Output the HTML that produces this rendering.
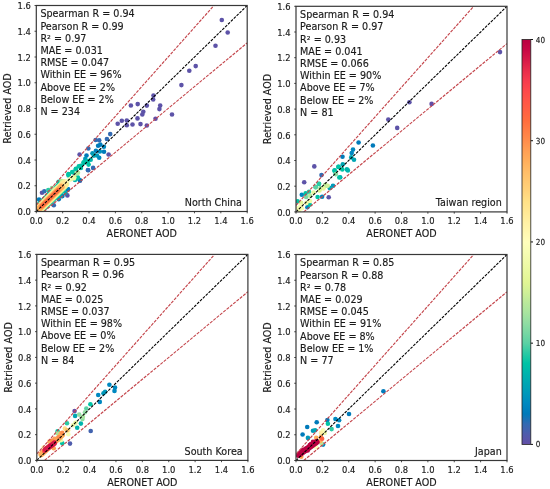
<!DOCTYPE html><html><head><meta charset="utf-8"><title>AOD validation</title><style>html,body{margin:0;padding:0;background:#fff}svg{display:block}text{font-family:'DejaVu Sans','Liberation Sans',sans-serif;fill:#1a1a1a;stroke:#1a1a1a;stroke-width:0.15px}svg{filter:blur(0.3px)}</style></head><body>
<svg width="550" height="489" viewBox="0 0 550 489">
<defs>
<clipPath id="cTL"><rect x="36.30" y="5.50" width="210.90" height="206.00"/></clipPath>
<clipPath id="cTR"><rect x="296.00" y="6.30" width="211.00" height="205.60"/></clipPath>
<clipPath id="cBL"><rect x="36.80" y="254.40" width="211.10" height="206.00"/></clipPath>
<clipPath id="cBR"><rect x="296.00" y="254.50" width="211.00" height="206.00"/></clipPath>
<linearGradient id="cb" x1="0" y1="0" x2="0" y2="1"><stop offset="0.000" stop-color="#b90041"/><stop offset="0.025" stop-color="#c80745"/><stop offset="0.050" stop-color="#d71848"/><stop offset="0.075" stop-color="#e72b4b"/><stop offset="0.100" stop-color="#f53a4e"/><stop offset="0.125" stop-color="#fd474b"/><stop offset="0.150" stop-color="#ff5447"/><stop offset="0.175" stop-color="#ff6043"/><stop offset="0.200" stop-color="#ff6d3e"/><stop offset="0.225" stop-color="#ff7d45"/><stop offset="0.250" stop-color="#ff8d4c"/><stop offset="0.275" stop-color="#ff9f54"/><stop offset="0.300" stop-color="#ffae5b"/><stop offset="0.325" stop-color="#ffbc67"/><stop offset="0.350" stop-color="#ffc871"/><stop offset="0.375" stop-color="#ffd37b"/><stop offset="0.400" stop-color="#ffe187"/><stop offset="0.425" stop-color="#ffe894"/><stop offset="0.450" stop-color="#fff0a3"/><stop offset="0.475" stop-color="#fff7af"/><stop offset="0.500" stop-color="#fffebc"/><stop offset="0.525" stop-color="#f7fdb3"/><stop offset="0.550" stop-color="#f0faa9"/><stop offset="0.575" stop-color="#e8f89e"/><stop offset="0.600" stop-color="#e1f594"/><stop offset="0.625" stop-color="#cff097"/><stop offset="0.650" stop-color="#bae99b"/><stop offset="0.675" stop-color="#a8e49f"/><stop offset="0.700" stop-color="#91dda3"/><stop offset="0.725" stop-color="#77d7a3"/><stop offset="0.750" stop-color="#5bd1a4"/><stop offset="0.775" stop-color="#2acaa4"/><stop offset="0.800" stop-color="#00c3a5"/><stop offset="0.825" stop-color="#00b4ad"/><stop offset="0.850" stop-color="#00a6b3"/><stop offset="0.875" stop-color="#0098ba"/><stop offset="0.900" stop-color="#0088c0"/><stop offset="0.925" stop-color="#007aba"/><stop offset="0.950" stop-color="#336ab2"/><stop offset="0.975" stop-color="#4f5cac"/><stop offset="1.000" stop-color="#634ea6"/></linearGradient>
</defs>
<rect width="550" height="489" fill="#fff"/>
<g clip-path="url(#cTL)">
<circle cx="155.5" cy="118.7" r="2.3" fill="#634ea6"/>
<circle cx="146.8" cy="125.5" r="2.3" fill="#634ea6"/>
<circle cx="221.8" cy="20.0" r="2.3" fill="#5d53a8"/>
<circle cx="227.7" cy="32.5" r="2.3" fill="#5d53a8"/>
<circle cx="215.5" cy="45.8" r="2.3" fill="#5d53a8"/>
<circle cx="195.7" cy="66.1" r="2.3" fill="#5d53a8"/>
<circle cx="189.3" cy="70.7" r="2.3" fill="#5d53a8"/>
<circle cx="181.4" cy="85.1" r="2.3" fill="#5d53a8"/>
<circle cx="153.5" cy="95.6" r="2.3" fill="#5d53a8"/>
<circle cx="153.2" cy="99.5" r="2.3" fill="#5d53a8"/>
<circle cx="130.9" cy="105.5" r="2.3" fill="#5d53a8"/>
<circle cx="137.7" cy="104.1" r="2.3" fill="#5d53a8"/>
<circle cx="146.8" cy="105.6" r="2.3" fill="#5d53a8"/>
<circle cx="160.2" cy="105.6" r="2.3" fill="#5d53a8"/>
<circle cx="159.4" cy="109.1" r="2.3" fill="#5d53a8"/>
<circle cx="143.3" cy="111.8" r="2.3" fill="#5d53a8"/>
<circle cx="142.3" cy="114.5" r="2.3" fill="#5d53a8"/>
<circle cx="137.5" cy="118.4" r="2.3" fill="#5d53a8"/>
<circle cx="121.8" cy="120.7" r="2.3" fill="#5d53a8"/>
<circle cx="126.8" cy="120.5" r="2.3" fill="#5d53a8"/>
<circle cx="117.7" cy="123.8" r="2.3" fill="#5d53a8"/>
<circle cx="126.8" cy="125.3" r="2.3" fill="#5d53a8"/>
<circle cx="132.5" cy="124.5" r="2.3" fill="#5d53a8"/>
<circle cx="140.5" cy="124.1" r="2.3" fill="#5d53a8"/>
<circle cx="172.0" cy="114.5" r="2.3" fill="#5d53a8"/>
<circle cx="108.6" cy="154.5" r="2.3" fill="#5d53a8"/>
<circle cx="79.6" cy="154.5" r="2.3" fill="#5d53a8"/>
<circle cx="42.0" cy="192.8" r="2.3" fill="#5d53a8"/>
<circle cx="67.4" cy="195.4" r="2.3" fill="#5d53a8"/>
<circle cx="80.0" cy="180.8" r="2.3" fill="#5d53a8"/>
<circle cx="110.2" cy="134.1" r="2.3" fill="#336ab2"/>
<circle cx="106.9" cy="139.0" r="2.3" fill="#336ab2"/>
<circle cx="95.6" cy="140.0" r="2.3" fill="#336ab2"/>
<circle cx="99.2" cy="140.2" r="2.3" fill="#336ab2"/>
<circle cx="88.3" cy="148.5" r="2.3" fill="#336ab2"/>
<circle cx="88.2" cy="170.3" r="2.3" fill="#336ab2"/>
<circle cx="93.1" cy="167.9" r="2.3" fill="#336ab2"/>
<circle cx="44.3" cy="191.3" r="2.3" fill="#336ab2"/>
<circle cx="53.8" cy="205.2" r="2.3" fill="#336ab2"/>
<circle cx="87.9" cy="170.0" r="2.3" fill="#336ab2"/>
<circle cx="98.1" cy="145.7" r="2.3" fill="#007aba"/>
<circle cx="100.3" cy="144.6" r="2.3" fill="#007aba"/>
<circle cx="104.0" cy="151.8" r="2.3" fill="#007aba"/>
<circle cx="86.5" cy="155.5" r="2.3" fill="#007aba"/>
<circle cx="80.0" cy="180.2" r="2.3" fill="#007aba"/>
<circle cx="39.0" cy="199.6" r="2.3" fill="#007aba"/>
<circle cx="58.7" cy="199.2" r="2.3" fill="#007aba"/>
<circle cx="68.1" cy="189.4" r="2.3" fill="#007aba"/>
<circle cx="62.4" cy="196.1" r="2.3" fill="#007aba"/>
<circle cx="67.9" cy="189.3" r="2.3" fill="#007aba"/>
<circle cx="95.9" cy="150.8" r="2.3" fill="#0081bd"/>
<circle cx="103.9" cy="146.8" r="2.3" fill="#0088c0"/>
<circle cx="99.2" cy="157.7" r="2.3" fill="#0088c0"/>
<circle cx="99.9" cy="151.5" r="2.3" fill="#008fbe"/>
<circle cx="92.5" cy="153.3" r="2.3" fill="#0098ba"/>
<circle cx="97.0" cy="155.5" r="2.3" fill="#0098ba"/>
<circle cx="85.3" cy="158.9" r="2.3" fill="#0098ba"/>
<circle cx="61.0" cy="196.2" r="2.3" fill="#0098ba"/>
<circle cx="58.6" cy="182.2" r="2.3" fill="#0098ba"/>
<circle cx="93.9" cy="155.6" r="2.3" fill="#00a6b3"/>
<circle cx="65.5" cy="193.1" r="2.3" fill="#00a6b3"/>
<circle cx="90.7" cy="159.7" r="2.3" fill="#00b4ad"/>
<circle cx="83.6" cy="162.9" r="2.3" fill="#00b4ad"/>
<circle cx="86.5" cy="161.4" r="2.3" fill="#00b4ad"/>
<circle cx="75.0" cy="180.0" r="2.3" fill="#00b4ad"/>
<circle cx="83.7" cy="162.2" r="2.3" fill="#00c3a5"/>
<circle cx="87.8" cy="161.4" r="2.3" fill="#00c3a5"/>
<circle cx="88.6" cy="164.6" r="2.3" fill="#00c3a5"/>
<circle cx="78.8" cy="166.3" r="2.3" fill="#00c3a5"/>
<circle cx="75.9" cy="168.7" r="2.3" fill="#00c3a5"/>
<circle cx="80.9" cy="167.9" r="2.3" fill="#00c3a5"/>
<circle cx="72.3" cy="172.0" r="2.3" fill="#00c3a5"/>
<circle cx="68.6" cy="174.0" r="2.3" fill="#00c3a5"/>
<circle cx="77.2" cy="177.7" r="2.3" fill="#00c3a5"/>
<circle cx="58.7" cy="181.8" r="2.3" fill="#00c3a5"/>
<circle cx="68.5" cy="175.4" r="2.3" fill="#00c3a5"/>
<circle cx="76.4" cy="178.6" r="2.3" fill="#00c3a5"/>
<circle cx="48.9" cy="191.2" r="2.3" fill="#00c3a5"/>
<circle cx="68.6" cy="174.3" r="2.3" fill="#00c3a5"/>
<circle cx="72.5" cy="172.2" r="2.3" fill="#00c3a5"/>
<circle cx="75.8" cy="169.3" r="2.3" fill="#00c3a5"/>
<circle cx="80.8" cy="165.7" r="2.3" fill="#00c3a5"/>
<circle cx="77.9" cy="177.5" r="2.3" fill="#00c3a5"/>
<line x1="37.62" y1="210.21" x2="61.34" y2="187.04" stroke="#00c3a5" stroke-width="11.5" stroke-linecap="round"/>
<circle cx="48.3" cy="190.0" r="2.3" fill="#2acaa4"/>
<circle cx="52.6" cy="200.4" r="2.3" fill="#2acaa4"/>
<circle cx="47.0" cy="201.6" r="2.3" fill="#5bd1a4"/>
<circle cx="56.2" cy="187.8" r="2.3" fill="#5bd1a4"/>
<circle cx="52.0" cy="188.1" r="2.3" fill="#91dda3"/>
<circle cx="76.5" cy="173.6" r="2.3" fill="#a8e49f"/>
<circle cx="78.0" cy="172.8" r="2.3" fill="#bae99b"/>
<circle cx="61.6" cy="181.0" r="2.3" fill="#bae99b"/>
<circle cx="62.1" cy="181.0" r="2.3" fill="#bae99b"/>
<circle cx="70.6" cy="179.3" r="2.3" fill="#e1f594"/>
<circle cx="63.0" cy="186.3" r="2.3" fill="#e1f594"/>
<circle cx="74.3" cy="177.2" r="2.3" fill="#e1f594"/>
<line x1="36.30" y1="211.50" x2="64.64" y2="183.82" stroke="#e8f89e" stroke-width="9.5" stroke-linecap="round"/>
<circle cx="73.9" cy="178.5" r="2.3" fill="#f0faa9"/>
<circle cx="63.7" cy="185.5" r="2.3" fill="#f0faa9"/>
<circle cx="71.5" cy="178.0" r="2.3" fill="#f0faa9"/>
<circle cx="69.5" cy="179.5" r="2.3" fill="#f7fdb3"/>
<circle cx="64.9" cy="183.4" r="2.3" fill="#fffebc"/>
<circle cx="66.5" cy="181.5" r="2.3" fill="#fffebc"/>
<line x1="36.30" y1="211.50" x2="63.98" y2="184.46" stroke="#ffe894" stroke-width="8.0" stroke-linecap="round"/>
<line x1="38.94" y1="208.93" x2="61.34" y2="187.04" stroke="#ffae5b" stroke-width="6.5" stroke-linecap="round"/>
<line x1="41.57" y1="206.35" x2="58.05" y2="190.26" stroke="#ff6d3e" stroke-width="4.5" stroke-linecap="round"/>
<line x1="36.30" y1="211.50" x2="247.20" y2="5.50" stroke="#000" stroke-width="1.1" stroke-dasharray="2.8 1.2"/>
<line x1="36.30" y1="205.06" x2="213.96" y2="5.50" stroke="#c4464c" stroke-width="1.15" stroke-dasharray="3.1 1.2"/>
<line x1="44.05" y1="211.50" x2="247.20" y2="42.84" stroke="#c4464c" stroke-width="1.15" stroke-dasharray="3.1 1.2"/>
</g>
<rect x="36.30" y="5.50" width="210.90" height="206.00" fill="none" stroke="#383838" stroke-width="1.2"/>
<line x1="36.30" y1="211.50" x2="36.30" y2="213.30" stroke="#222" stroke-width="0.8"/>
<line x1="34.50" y1="211.50" x2="36.30" y2="211.50" stroke="#222" stroke-width="0.8"/>
<text x="36.30" y="223.80" font-size="8.4" text-anchor="middle">0.0</text>
<text x="30.90" y="215.20" font-size="8.4" text-anchor="end">0.0</text>
<line x1="62.66" y1="211.50" x2="62.66" y2="213.30" stroke="#222" stroke-width="0.8"/>
<line x1="34.50" y1="185.75" x2="36.30" y2="185.75" stroke="#222" stroke-width="0.8"/>
<text x="62.66" y="223.80" font-size="8.4" text-anchor="middle">0.2</text>
<text x="30.90" y="189.45" font-size="8.4" text-anchor="end">0.2</text>
<line x1="89.03" y1="211.50" x2="89.03" y2="213.30" stroke="#222" stroke-width="0.8"/>
<line x1="34.50" y1="160.00" x2="36.30" y2="160.00" stroke="#222" stroke-width="0.8"/>
<text x="89.03" y="223.80" font-size="8.4" text-anchor="middle">0.4</text>
<text x="30.90" y="163.70" font-size="8.4" text-anchor="end">0.4</text>
<line x1="115.39" y1="211.50" x2="115.39" y2="213.30" stroke="#222" stroke-width="0.8"/>
<line x1="34.50" y1="134.25" x2="36.30" y2="134.25" stroke="#222" stroke-width="0.8"/>
<text x="115.39" y="223.80" font-size="8.4" text-anchor="middle">0.6</text>
<text x="30.90" y="137.95" font-size="8.4" text-anchor="end">0.6</text>
<line x1="141.75" y1="211.50" x2="141.75" y2="213.30" stroke="#222" stroke-width="0.8"/>
<line x1="34.50" y1="108.50" x2="36.30" y2="108.50" stroke="#222" stroke-width="0.8"/>
<text x="141.75" y="223.80" font-size="8.4" text-anchor="middle">0.8</text>
<text x="30.90" y="112.20" font-size="8.4" text-anchor="end">0.8</text>
<line x1="168.11" y1="211.50" x2="168.11" y2="213.30" stroke="#222" stroke-width="0.8"/>
<line x1="34.50" y1="82.75" x2="36.30" y2="82.75" stroke="#222" stroke-width="0.8"/>
<text x="168.11" y="223.80" font-size="8.4" text-anchor="middle">1.0</text>
<text x="30.90" y="86.45" font-size="8.4" text-anchor="end">1.0</text>
<line x1="194.47" y1="211.50" x2="194.47" y2="213.30" stroke="#222" stroke-width="0.8"/>
<line x1="34.50" y1="57.00" x2="36.30" y2="57.00" stroke="#222" stroke-width="0.8"/>
<text x="194.47" y="223.80" font-size="8.4" text-anchor="middle">1.2</text>
<text x="30.90" y="60.70" font-size="8.4" text-anchor="end">1.2</text>
<line x1="220.84" y1="211.50" x2="220.84" y2="213.30" stroke="#222" stroke-width="0.8"/>
<line x1="34.50" y1="31.25" x2="36.30" y2="31.25" stroke="#222" stroke-width="0.8"/>
<text x="220.84" y="223.80" font-size="8.4" text-anchor="middle">1.4</text>
<text x="30.90" y="34.95" font-size="8.4" text-anchor="end">1.4</text>
<line x1="247.20" y1="211.50" x2="247.20" y2="213.30" stroke="#222" stroke-width="0.8"/>
<line x1="34.50" y1="5.50" x2="36.30" y2="5.50" stroke="#222" stroke-width="0.8"/>
<text x="247.20" y="223.80" font-size="8.4" text-anchor="middle">1.6</text>
<text x="30.90" y="9.20" font-size="8.4" text-anchor="end">1.6</text>
<text x="40.40" y="17.30" font-size="9.6">Spearman R = 0.94</text>
<text x="40.40" y="29.50" font-size="9.6">Pearson R = 0.99</text>
<text x="40.40" y="41.70" font-size="9.6">R² = 0.97</text>
<text x="40.40" y="53.90" font-size="9.6">MAE = 0.031</text>
<text x="40.40" y="66.10" font-size="9.6">RMSE = 0.047</text>
<text x="40.40" y="78.30" font-size="9.6">Within EE = 96%</text>
<text x="40.40" y="90.50" font-size="9.6">Above EE = 2%</text>
<text x="40.40" y="102.70" font-size="9.6">Below EE = 2%</text>
<text x="40.40" y="114.90" font-size="9.6">N = 234</text>
<text x="242.00" y="205.90" font-size="9.6" text-anchor="end">North China</text>
<text x="141.75" y="237.00" font-size="9.6" text-anchor="middle">AERONET AOD</text>
<text transform="translate(11.10 108.50) rotate(-90)" font-size="9.6" text-anchor="middle">Retrieved AOD</text>
<g clip-path="url(#cTR)">
<circle cx="431.6" cy="103.9" r="2.3" fill="#634ea6"/>
<circle cx="500.0" cy="52.1" r="2.3" fill="#5d53a8"/>
<circle cx="409.4" cy="102.2" r="2.3" fill="#5d53a8"/>
<circle cx="388.3" cy="119.6" r="2.3" fill="#5d53a8"/>
<circle cx="397.2" cy="127.9" r="2.3" fill="#5d53a8"/>
<circle cx="314.3" cy="166.4" r="2.3" fill="#5d53a8"/>
<circle cx="304.2" cy="182.3" r="2.3" fill="#5d53a8"/>
<circle cx="328.7" cy="197.2" r="2.3" fill="#5d53a8"/>
<circle cx="321.5" cy="175.1" r="2.3" fill="#336ab2"/>
<circle cx="372.9" cy="145.5" r="2.3" fill="#007aba"/>
<circle cx="358.6" cy="142.5" r="2.3" fill="#007aba"/>
<circle cx="342.5" cy="156.8" r="2.3" fill="#007aba"/>
<circle cx="353.0" cy="149.6" r="2.3" fill="#0088c0"/>
<circle cx="351.7" cy="153.0" r="2.3" fill="#0088c0"/>
<circle cx="301.8" cy="194.8" r="2.3" fill="#0088c0"/>
<circle cx="322.1" cy="196.7" r="2.3" fill="#0088c0"/>
<circle cx="307.4" cy="207.2" r="2.3" fill="#0088c0"/>
<circle cx="333.0" cy="185.7" r="2.3" fill="#0098ba"/>
<circle cx="351.2" cy="157.4" r="2.3" fill="#00a6b3"/>
<circle cx="354.0" cy="159.7" r="2.3" fill="#00a6b3"/>
<circle cx="342.8" cy="164.3" r="2.3" fill="#00a6b3"/>
<circle cx="340.2" cy="177.2" r="2.3" fill="#00a6b3"/>
<circle cx="329.7" cy="188.1" r="2.3" fill="#00a6b3"/>
<circle cx="338.7" cy="166.8" r="2.3" fill="#00b4ad"/>
<circle cx="334.6" cy="170.4" r="2.3" fill="#00b4ad"/>
<circle cx="346.9" cy="169.4" r="2.3" fill="#00b4ad"/>
<circle cx="347.9" cy="170.4" r="2.3" fill="#00b4ad"/>
<circle cx="342.3" cy="169.4" r="2.3" fill="#00c3a5"/>
<circle cx="319.1" cy="183.8" r="2.3" fill="#00c3a5"/>
<circle cx="334.5" cy="170.8" r="2.3" fill="#00c3a5"/>
<circle cx="338.3" cy="166.9" r="2.3" fill="#00c3a5"/>
<circle cx="339.3" cy="177.5" r="2.3" fill="#00c3a5"/>
<circle cx="305.6" cy="193.4" r="2.3" fill="#00c3a5"/>
<circle cx="297.6" cy="201.3" r="2.3" fill="#00c3a5"/>
<circle cx="317.6" cy="197.0" r="2.3" fill="#00c3a5"/>
<circle cx="309.7" cy="204.6" r="2.3" fill="#00c3a5"/>
<circle cx="335.6" cy="174.0" r="2.3" fill="#2acaa4"/>
<circle cx="315.7" cy="187.1" r="2.3" fill="#2acaa4"/>
<circle cx="309.0" cy="191.8" r="2.3" fill="#2acaa4"/>
<circle cx="318.9" cy="184.0" r="2.3" fill="#2acaa4"/>
<circle cx="315.6" cy="187.2" r="2.3" fill="#5bd1a4"/>
<circle cx="306.1" cy="197.0" r="2.3" fill="#77d7a3"/>
<circle cx="320.5" cy="188.1" r="2.3" fill="#91dda3"/>
<circle cx="335.9" cy="174.1" r="2.3" fill="#91dda3"/>
<circle cx="325.3" cy="184.7" r="2.3" fill="#bae99b"/>
<circle cx="310.0" cy="195.7" r="2.3" fill="#bae99b"/>
<circle cx="325.4" cy="186.0" r="2.3" fill="#bae99b"/>
<circle cx="327.7" cy="185.7" r="2.3" fill="#cff097"/>
<circle cx="319.5" cy="190.5" r="2.3" fill="#e1f594"/>
<circle cx="301.2" cy="202.9" r="2.3" fill="#e1f594"/>
<circle cx="313.6" cy="192.5" r="2.3" fill="#e8f89e"/>
<circle cx="323.5" cy="188.5" r="2.3" fill="#e8f89e"/>
<circle cx="310.0" cy="201.0" r="2.3" fill="#f0faa9"/>
<circle cx="306.4" cy="202.9" r="2.3" fill="#f0faa9"/>
<circle cx="299.2" cy="210.1" r="2.3" fill="#f0faa9"/>
<circle cx="300.5" cy="205.9" r="2.3" fill="#f7fdb3"/>
<circle cx="297.9" cy="208.2" r="2.3" fill="#f7fdb3"/>
<circle cx="301.9" cy="208.2" r="2.3" fill="#f7fdb3"/>
<line x1="296.00" y1="211.90" x2="507.00" y2="6.30" stroke="#000" stroke-width="1.1" stroke-dasharray="2.8 1.2"/>
<line x1="296.00" y1="205.47" x2="473.74" y2="6.30" stroke="#c4464c" stroke-width="1.15" stroke-dasharray="3.1 1.2"/>
<line x1="303.76" y1="211.90" x2="507.00" y2="43.57" stroke="#c4464c" stroke-width="1.15" stroke-dasharray="3.1 1.2"/>
</g>
<rect x="296.00" y="6.30" width="211.00" height="205.60" fill="none" stroke="#383838" stroke-width="1.2"/>
<line x1="296.00" y1="211.90" x2="296.00" y2="213.70" stroke="#222" stroke-width="0.8"/>
<line x1="294.20" y1="211.90" x2="296.00" y2="211.90" stroke="#222" stroke-width="0.8"/>
<text x="296.00" y="224.20" font-size="8.4" text-anchor="middle">0.0</text>
<text x="290.60" y="215.60" font-size="8.4" text-anchor="end">0.0</text>
<line x1="322.38" y1="211.90" x2="322.38" y2="213.70" stroke="#222" stroke-width="0.8"/>
<line x1="294.20" y1="186.20" x2="296.00" y2="186.20" stroke="#222" stroke-width="0.8"/>
<text x="322.38" y="224.20" font-size="8.4" text-anchor="middle">0.2</text>
<text x="290.60" y="189.90" font-size="8.4" text-anchor="end">0.2</text>
<line x1="348.75" y1="211.90" x2="348.75" y2="213.70" stroke="#222" stroke-width="0.8"/>
<line x1="294.20" y1="160.50" x2="296.00" y2="160.50" stroke="#222" stroke-width="0.8"/>
<text x="348.75" y="224.20" font-size="8.4" text-anchor="middle">0.4</text>
<text x="290.60" y="164.20" font-size="8.4" text-anchor="end">0.4</text>
<line x1="375.12" y1="211.90" x2="375.12" y2="213.70" stroke="#222" stroke-width="0.8"/>
<line x1="294.20" y1="134.80" x2="296.00" y2="134.80" stroke="#222" stroke-width="0.8"/>
<text x="375.12" y="224.20" font-size="8.4" text-anchor="middle">0.6</text>
<text x="290.60" y="138.50" font-size="8.4" text-anchor="end">0.6</text>
<line x1="401.50" y1="211.90" x2="401.50" y2="213.70" stroke="#222" stroke-width="0.8"/>
<line x1="294.20" y1="109.10" x2="296.00" y2="109.10" stroke="#222" stroke-width="0.8"/>
<text x="401.50" y="224.20" font-size="8.4" text-anchor="middle">0.8</text>
<text x="290.60" y="112.80" font-size="8.4" text-anchor="end">0.8</text>
<line x1="427.88" y1="211.90" x2="427.88" y2="213.70" stroke="#222" stroke-width="0.8"/>
<line x1="294.20" y1="83.40" x2="296.00" y2="83.40" stroke="#222" stroke-width="0.8"/>
<text x="427.88" y="224.20" font-size="8.4" text-anchor="middle">1.0</text>
<text x="290.60" y="87.10" font-size="8.4" text-anchor="end">1.0</text>
<line x1="454.25" y1="211.90" x2="454.25" y2="213.70" stroke="#222" stroke-width="0.8"/>
<line x1="294.20" y1="57.70" x2="296.00" y2="57.70" stroke="#222" stroke-width="0.8"/>
<text x="454.25" y="224.20" font-size="8.4" text-anchor="middle">1.2</text>
<text x="290.60" y="61.40" font-size="8.4" text-anchor="end">1.2</text>
<line x1="480.62" y1="211.90" x2="480.62" y2="213.70" stroke="#222" stroke-width="0.8"/>
<line x1="294.20" y1="32.00" x2="296.00" y2="32.00" stroke="#222" stroke-width="0.8"/>
<text x="480.62" y="224.20" font-size="8.4" text-anchor="middle">1.4</text>
<text x="290.60" y="35.70" font-size="8.4" text-anchor="end">1.4</text>
<line x1="507.00" y1="211.90" x2="507.00" y2="213.70" stroke="#222" stroke-width="0.8"/>
<line x1="294.20" y1="6.30" x2="296.00" y2="6.30" stroke="#222" stroke-width="0.8"/>
<text x="507.00" y="224.20" font-size="8.4" text-anchor="middle">1.6</text>
<text x="290.60" y="10.00" font-size="8.4" text-anchor="end">1.6</text>
<text x="300.10" y="18.10" font-size="9.6">Spearman R = 0.94</text>
<text x="300.10" y="30.30" font-size="9.6">Pearson R = 0.97</text>
<text x="300.10" y="42.50" font-size="9.6">R² = 0.93</text>
<text x="300.10" y="54.70" font-size="9.6">MAE = 0.041</text>
<text x="300.10" y="66.90" font-size="9.6">RMSE = 0.066</text>
<text x="300.10" y="79.10" font-size="9.6">Within EE = 90%</text>
<text x="300.10" y="91.30" font-size="9.6">Above EE = 7%</text>
<text x="300.10" y="103.50" font-size="9.6">Below EE = 2%</text>
<text x="300.10" y="115.70" font-size="9.6">N = 81</text>
<text x="501.80" y="206.30" font-size="9.6" text-anchor="end">Taiwan region</text>
<text x="401.50" y="237.40" font-size="9.6" text-anchor="middle">AERONET AOD</text>
<text transform="translate(270.80 109.10) rotate(-90)" font-size="9.6" text-anchor="middle">Retrieved AOD</text>
<g clip-path="url(#cBL)">
<circle cx="74.6" cy="411.0" r="2.3" fill="#634ea6"/>
<circle cx="70.0" cy="443.6" r="2.3" fill="#4f5cac"/>
<circle cx="90.7" cy="431.0" r="2.3" fill="#4263af"/>
<circle cx="109.4" cy="384.7" r="2.3" fill="#0088c0"/>
<circle cx="115.0" cy="387.6" r="2.3" fill="#0088c0"/>
<circle cx="114.5" cy="390.9" r="2.3" fill="#0088c0"/>
<circle cx="98.2" cy="395.0" r="2.3" fill="#0088c0"/>
<circle cx="99.8" cy="401.9" r="2.3" fill="#0088c0"/>
<circle cx="105.1" cy="391.7" r="2.3" fill="#0098ba"/>
<circle cx="103.5" cy="393.3" r="2.3" fill="#0098ba"/>
<circle cx="75.1" cy="415.9" r="2.3" fill="#00a6b3"/>
<circle cx="80.9" cy="423.6" r="2.3" fill="#00b4ad"/>
<circle cx="77.2" cy="427.7" r="2.3" fill="#00b4ad"/>
<circle cx="90.4" cy="404.2" r="2.3" fill="#00c3a5"/>
<circle cx="57.6" cy="431.2" r="2.3" fill="#00c3a5"/>
<circle cx="62.3" cy="443.2" r="2.3" fill="#00c3a5"/>
<circle cx="67.0" cy="423.2" r="2.3" fill="#2acaa4"/>
<circle cx="86.3" cy="408.5" r="2.3" fill="#5bd1a4"/>
<circle cx="85.0" cy="412.2" r="2.3" fill="#91dda3"/>
<circle cx="79.2" cy="414.6" r="2.3" fill="#91dda3"/>
<circle cx="82.5" cy="419.1" r="2.3" fill="#91dda3"/>
<circle cx="82.9" cy="416.7" r="2.3" fill="#a8e49f"/>
<circle cx="57.2" cy="433.3" r="2.3" fill="#a8e49f"/>
<circle cx="75.5" cy="422.8" r="2.3" fill="#e8f89e"/>
<circle cx="73.1" cy="425.3" r="2.3" fill="#f0faa9"/>
<circle cx="61.0" cy="440.2" r="2.3" fill="#f0faa9"/>
<circle cx="68.3" cy="434.2" r="2.3" fill="#f7fdb3"/>
<circle cx="43.4" cy="447.5" r="2.3" fill="#fffebc"/>
<circle cx="68.2" cy="430.2" r="2.3" fill="#fff0a3"/>
<circle cx="64.9" cy="428.5" r="2.3" fill="#ffe187"/>
<circle cx="40.9" cy="455.2" r="2.3" fill="#ffd37b"/>
<circle cx="67.0" cy="430.3" r="2.3" fill="#ffbc67"/>
<circle cx="60.8" cy="433.4" r="2.3" fill="#ffae5b"/>
<circle cx="42.6" cy="453.5" r="2.3" fill="#ffae5b"/>
<circle cx="49.5" cy="441.5" r="2.3" fill="#ffae5b"/>
<line x1="41.50" y1="454.00" x2="62.00" y2="435.00" stroke="#ffae5b" stroke-width="6.0" stroke-linecap="round"/>
<circle cx="53.7" cy="448.3" r="2.3" fill="#ff9f54"/>
<circle cx="54.6" cy="438.9" r="2.3" fill="#ff9f54"/>
<circle cx="62.3" cy="432.9" r="2.3" fill="#ff8d4c"/>
<circle cx="58.9" cy="437.2" r="2.3" fill="#ff8d4c"/>
<circle cx="52.0" cy="440.6" r="2.3" fill="#ff8d4c"/>
<circle cx="54.6" cy="442.3" r="2.3" fill="#fd474b"/>
<circle cx="44.3" cy="450.9" r="2.3" fill="#fd474b"/>
<circle cx="46.9" cy="448.3" r="2.3" fill="#e72b4b"/>
<line x1="45.50" y1="449.50" x2="54.00" y2="443.50" stroke="#d71848" stroke-width="5.5" stroke-linecap="round"/>
<circle cx="50.3" cy="445.8" r="2.3" fill="#c80745"/>
<line x1="36.80" y1="460.40" x2="247.90" y2="254.40" stroke="#000" stroke-width="1.1" stroke-dasharray="2.8 1.2"/>
<line x1="36.80" y1="453.96" x2="214.63" y2="254.40" stroke="#c4464c" stroke-width="1.15" stroke-dasharray="3.1 1.2"/>
<line x1="44.56" y1="460.40" x2="247.90" y2="291.74" stroke="#c4464c" stroke-width="1.15" stroke-dasharray="3.1 1.2"/>
</g>
<rect x="36.80" y="254.40" width="211.10" height="206.00" fill="none" stroke="#383838" stroke-width="1.2"/>
<line x1="36.80" y1="460.40" x2="36.80" y2="462.20" stroke="#222" stroke-width="0.8"/>
<line x1="35.00" y1="460.40" x2="36.80" y2="460.40" stroke="#222" stroke-width="0.8"/>
<text x="36.80" y="472.70" font-size="8.4" text-anchor="middle">0.0</text>
<text x="31.40" y="464.10" font-size="8.4" text-anchor="end">0.0</text>
<line x1="63.19" y1="460.40" x2="63.19" y2="462.20" stroke="#222" stroke-width="0.8"/>
<line x1="35.00" y1="434.65" x2="36.80" y2="434.65" stroke="#222" stroke-width="0.8"/>
<text x="63.19" y="472.70" font-size="8.4" text-anchor="middle">0.2</text>
<text x="31.40" y="438.35" font-size="8.4" text-anchor="end">0.2</text>
<line x1="89.57" y1="460.40" x2="89.57" y2="462.20" stroke="#222" stroke-width="0.8"/>
<line x1="35.00" y1="408.90" x2="36.80" y2="408.90" stroke="#222" stroke-width="0.8"/>
<text x="89.57" y="472.70" font-size="8.4" text-anchor="middle">0.4</text>
<text x="31.40" y="412.60" font-size="8.4" text-anchor="end">0.4</text>
<line x1="115.96" y1="460.40" x2="115.96" y2="462.20" stroke="#222" stroke-width="0.8"/>
<line x1="35.00" y1="383.15" x2="36.80" y2="383.15" stroke="#222" stroke-width="0.8"/>
<text x="115.96" y="472.70" font-size="8.4" text-anchor="middle">0.6</text>
<text x="31.40" y="386.85" font-size="8.4" text-anchor="end">0.6</text>
<line x1="142.35" y1="460.40" x2="142.35" y2="462.20" stroke="#222" stroke-width="0.8"/>
<line x1="35.00" y1="357.40" x2="36.80" y2="357.40" stroke="#222" stroke-width="0.8"/>
<text x="142.35" y="472.70" font-size="8.4" text-anchor="middle">0.8</text>
<text x="31.40" y="361.10" font-size="8.4" text-anchor="end">0.8</text>
<line x1="168.74" y1="460.40" x2="168.74" y2="462.20" stroke="#222" stroke-width="0.8"/>
<line x1="35.00" y1="331.65" x2="36.80" y2="331.65" stroke="#222" stroke-width="0.8"/>
<text x="168.74" y="472.70" font-size="8.4" text-anchor="middle">1.0</text>
<text x="31.40" y="335.35" font-size="8.4" text-anchor="end">1.0</text>
<line x1="195.12" y1="460.40" x2="195.12" y2="462.20" stroke="#222" stroke-width="0.8"/>
<line x1="35.00" y1="305.90" x2="36.80" y2="305.90" stroke="#222" stroke-width="0.8"/>
<text x="195.12" y="472.70" font-size="8.4" text-anchor="middle">1.2</text>
<text x="31.40" y="309.60" font-size="8.4" text-anchor="end">1.2</text>
<line x1="221.51" y1="460.40" x2="221.51" y2="462.20" stroke="#222" stroke-width="0.8"/>
<line x1="35.00" y1="280.15" x2="36.80" y2="280.15" stroke="#222" stroke-width="0.8"/>
<text x="221.51" y="472.70" font-size="8.4" text-anchor="middle">1.4</text>
<text x="31.40" y="283.85" font-size="8.4" text-anchor="end">1.4</text>
<line x1="247.90" y1="460.40" x2="247.90" y2="462.20" stroke="#222" stroke-width="0.8"/>
<line x1="35.00" y1="254.40" x2="36.80" y2="254.40" stroke="#222" stroke-width="0.8"/>
<text x="247.90" y="472.70" font-size="8.4" text-anchor="middle">1.6</text>
<text x="31.40" y="258.10" font-size="8.4" text-anchor="end">1.6</text>
<text x="40.90" y="266.20" font-size="9.6">Spearman R = 0.95</text>
<text x="40.90" y="278.40" font-size="9.6">Pearson R = 0.96</text>
<text x="40.90" y="290.60" font-size="9.6">R² = 0.92</text>
<text x="40.90" y="302.80" font-size="9.6">MAE = 0.025</text>
<text x="40.90" y="315.00" font-size="9.6">RMSE = 0.037</text>
<text x="40.90" y="327.20" font-size="9.6">Within EE = 98%</text>
<text x="40.90" y="339.40" font-size="9.6">Above EE = 0%</text>
<text x="40.90" y="351.60" font-size="9.6">Below EE = 2%</text>
<text x="40.90" y="363.80" font-size="9.6">N = 84</text>
<text x="242.70" y="454.80" font-size="9.6" text-anchor="end">South Korea</text>
<text x="142.35" y="485.90" font-size="9.6" text-anchor="middle">AERONET AOD</text>
<text transform="translate(11.60 357.40) rotate(-90)" font-size="9.6" text-anchor="middle">Retrieved AOD</text>
<g clip-path="url(#cBR)">
<circle cx="383.4" cy="391.2" r="2.3" fill="#007aba"/>
<circle cx="349.0" cy="414.0" r="2.3" fill="#007aba"/>
<circle cx="316.7" cy="422.2" r="2.3" fill="#007aba"/>
<circle cx="327.4" cy="420.1" r="2.3" fill="#007aba"/>
<circle cx="307.2" cy="427.0" r="2.3" fill="#007aba"/>
<circle cx="302.6" cy="434.5" r="2.3" fill="#007aba"/>
<circle cx="335.4" cy="419.0" r="2.3" fill="#0088c0"/>
<circle cx="339.1" cy="420.3" r="2.3" fill="#0088c0"/>
<circle cx="338.0" cy="426.0" r="2.3" fill="#0088c0"/>
<circle cx="323.1" cy="444.6" r="2.3" fill="#0088c0"/>
<circle cx="313.0" cy="430.7" r="2.3" fill="#0098ba"/>
<circle cx="307.9" cy="437.9" r="2.3" fill="#0098ba"/>
<circle cx="315.1" cy="430.2" r="2.3" fill="#00a6b3"/>
<circle cx="327.9" cy="423.8" r="2.3" fill="#00c3a5"/>
<circle cx="331.6" cy="429.1" r="2.3" fill="#2acaa4"/>
<circle cx="321.5" cy="443.5" r="2.3" fill="#bae99b"/>
<circle cx="324.7" cy="432.9" r="2.3" fill="#f0faa9"/>
<circle cx="323.1" cy="430.2" r="2.3" fill="#f7fdb3"/>
<circle cx="316.2" cy="447.2" r="2.3" fill="#fffebc"/>
<circle cx="321.0" cy="432.9" r="2.3" fill="#fff0a3"/>
<circle cx="316.2" cy="437.7" r="2.3" fill="#ffae5b"/>
<circle cx="320.5" cy="440.9" r="2.3" fill="#ffae5b"/>
<circle cx="321.0" cy="437.1" r="2.3" fill="#ff9f54"/>
<circle cx="301.3" cy="456.8" r="2.3" fill="#ff9f54"/>
<circle cx="322.1" cy="438.7" r="2.3" fill="#ff6043"/>
<circle cx="313.0" cy="441.9" r="2.3" fill="#b90041"/>
<circle cx="314.6" cy="443.0" r="2.3" fill="#b90041"/>
<circle cx="309.8" cy="445.1" r="2.3" fill="#b90041"/>
<circle cx="305.6" cy="448.8" r="2.3" fill="#b90041"/>
<circle cx="302.4" cy="450.4" r="2.3" fill="#b90041"/>
<circle cx="300.3" cy="453.6" r="2.3" fill="#b90041"/>
<circle cx="298.1" cy="455.7" r="2.3" fill="#b90041"/>
<circle cx="307.7" cy="450.4" r="2.3" fill="#b90041"/>
<circle cx="311.0" cy="444.0" r="2.3" fill="#b90041"/>
<circle cx="304.0" cy="450.0" r="2.3" fill="#b90041"/>
<line x1="300.00" y1="454.00" x2="316.50" y2="442.00" stroke="#b90041" stroke-width="6.3" stroke-linecap="round"/>
<line x1="296.00" y1="460.50" x2="507.00" y2="254.50" stroke="#000" stroke-width="1.1" stroke-dasharray="2.8 1.2"/>
<line x1="296.00" y1="454.06" x2="473.74" y2="254.50" stroke="#c4464c" stroke-width="1.15" stroke-dasharray="3.1 1.2"/>
<line x1="303.76" y1="460.50" x2="507.00" y2="291.84" stroke="#c4464c" stroke-width="1.15" stroke-dasharray="3.1 1.2"/>
</g>
<rect x="296.00" y="254.50" width="211.00" height="206.00" fill="none" stroke="#383838" stroke-width="1.2"/>
<line x1="296.00" y1="460.50" x2="296.00" y2="462.30" stroke="#222" stroke-width="0.8"/>
<line x1="294.20" y1="460.50" x2="296.00" y2="460.50" stroke="#222" stroke-width="0.8"/>
<text x="296.00" y="472.80" font-size="8.4" text-anchor="middle">0.0</text>
<text x="290.60" y="464.20" font-size="8.4" text-anchor="end">0.0</text>
<line x1="322.38" y1="460.50" x2="322.38" y2="462.30" stroke="#222" stroke-width="0.8"/>
<line x1="294.20" y1="434.75" x2="296.00" y2="434.75" stroke="#222" stroke-width="0.8"/>
<text x="322.38" y="472.80" font-size="8.4" text-anchor="middle">0.2</text>
<text x="290.60" y="438.45" font-size="8.4" text-anchor="end">0.2</text>
<line x1="348.75" y1="460.50" x2="348.75" y2="462.30" stroke="#222" stroke-width="0.8"/>
<line x1="294.20" y1="409.00" x2="296.00" y2="409.00" stroke="#222" stroke-width="0.8"/>
<text x="348.75" y="472.80" font-size="8.4" text-anchor="middle">0.4</text>
<text x="290.60" y="412.70" font-size="8.4" text-anchor="end">0.4</text>
<line x1="375.12" y1="460.50" x2="375.12" y2="462.30" stroke="#222" stroke-width="0.8"/>
<line x1="294.20" y1="383.25" x2="296.00" y2="383.25" stroke="#222" stroke-width="0.8"/>
<text x="375.12" y="472.80" font-size="8.4" text-anchor="middle">0.6</text>
<text x="290.60" y="386.95" font-size="8.4" text-anchor="end">0.6</text>
<line x1="401.50" y1="460.50" x2="401.50" y2="462.30" stroke="#222" stroke-width="0.8"/>
<line x1="294.20" y1="357.50" x2="296.00" y2="357.50" stroke="#222" stroke-width="0.8"/>
<text x="401.50" y="472.80" font-size="8.4" text-anchor="middle">0.8</text>
<text x="290.60" y="361.20" font-size="8.4" text-anchor="end">0.8</text>
<line x1="427.88" y1="460.50" x2="427.88" y2="462.30" stroke="#222" stroke-width="0.8"/>
<line x1="294.20" y1="331.75" x2="296.00" y2="331.75" stroke="#222" stroke-width="0.8"/>
<text x="427.88" y="472.80" font-size="8.4" text-anchor="middle">1.0</text>
<text x="290.60" y="335.45" font-size="8.4" text-anchor="end">1.0</text>
<line x1="454.25" y1="460.50" x2="454.25" y2="462.30" stroke="#222" stroke-width="0.8"/>
<line x1="294.20" y1="306.00" x2="296.00" y2="306.00" stroke="#222" stroke-width="0.8"/>
<text x="454.25" y="472.80" font-size="8.4" text-anchor="middle">1.2</text>
<text x="290.60" y="309.70" font-size="8.4" text-anchor="end">1.2</text>
<line x1="480.62" y1="460.50" x2="480.62" y2="462.30" stroke="#222" stroke-width="0.8"/>
<line x1="294.20" y1="280.25" x2="296.00" y2="280.25" stroke="#222" stroke-width="0.8"/>
<text x="480.62" y="472.80" font-size="8.4" text-anchor="middle">1.4</text>
<text x="290.60" y="283.95" font-size="8.4" text-anchor="end">1.4</text>
<line x1="507.00" y1="460.50" x2="507.00" y2="462.30" stroke="#222" stroke-width="0.8"/>
<line x1="294.20" y1="254.50" x2="296.00" y2="254.50" stroke="#222" stroke-width="0.8"/>
<text x="507.00" y="472.80" font-size="8.4" text-anchor="middle">1.6</text>
<text x="290.60" y="258.20" font-size="8.4" text-anchor="end">1.6</text>
<text x="300.10" y="266.30" font-size="9.6">Spearman R = 0.85</text>
<text x="300.10" y="278.50" font-size="9.6">Pearson R = 0.88</text>
<text x="300.10" y="290.70" font-size="9.6">R² = 0.78</text>
<text x="300.10" y="302.90" font-size="9.6">MAE = 0.029</text>
<text x="300.10" y="315.10" font-size="9.6">RMSE = 0.045</text>
<text x="300.10" y="327.30" font-size="9.6">Within EE = 91%</text>
<text x="300.10" y="339.50" font-size="9.6">Above EE = 8%</text>
<text x="300.10" y="351.70" font-size="9.6">Below EE = 1%</text>
<text x="300.10" y="363.90" font-size="9.6">N = 77</text>
<text x="501.80" y="454.90" font-size="9.6" text-anchor="end">Japan</text>
<text x="401.50" y="486.00" font-size="9.6" text-anchor="middle">AERONET AOD</text>
<text transform="translate(270.80 357.50) rotate(-90)" font-size="9.6" text-anchor="middle">Retrieved AOD</text>
<rect x="522.00" y="39.50" width="8.80" height="404.90" fill="url(#cb)" stroke="#222" stroke-width="0.8"/>
<line x1="530.80" y1="444.40" x2="533.00" y2="444.40" stroke="#111" stroke-width="1.0"/>
<text transform="translate(535.80 447.40) scale(0.88 1)" font-size="8.3">0</text>
<line x1="530.80" y1="343.17" x2="533.00" y2="343.17" stroke="#111" stroke-width="1.0"/>
<text transform="translate(535.80 346.17) scale(0.88 1)" font-size="8.3">10</text>
<line x1="530.80" y1="241.95" x2="533.00" y2="241.95" stroke="#111" stroke-width="1.0"/>
<text transform="translate(535.80 244.95) scale(0.88 1)" font-size="8.3">20</text>
<line x1="530.80" y1="140.73" x2="533.00" y2="140.73" stroke="#111" stroke-width="1.0"/>
<text transform="translate(535.80 143.73) scale(0.88 1)" font-size="8.3">30</text>
<line x1="530.80" y1="39.50" x2="533.00" y2="39.50" stroke="#111" stroke-width="1.0"/>
<text transform="translate(535.80 42.50) scale(0.88 1)" font-size="8.3">40</text>
</svg></body></html>
